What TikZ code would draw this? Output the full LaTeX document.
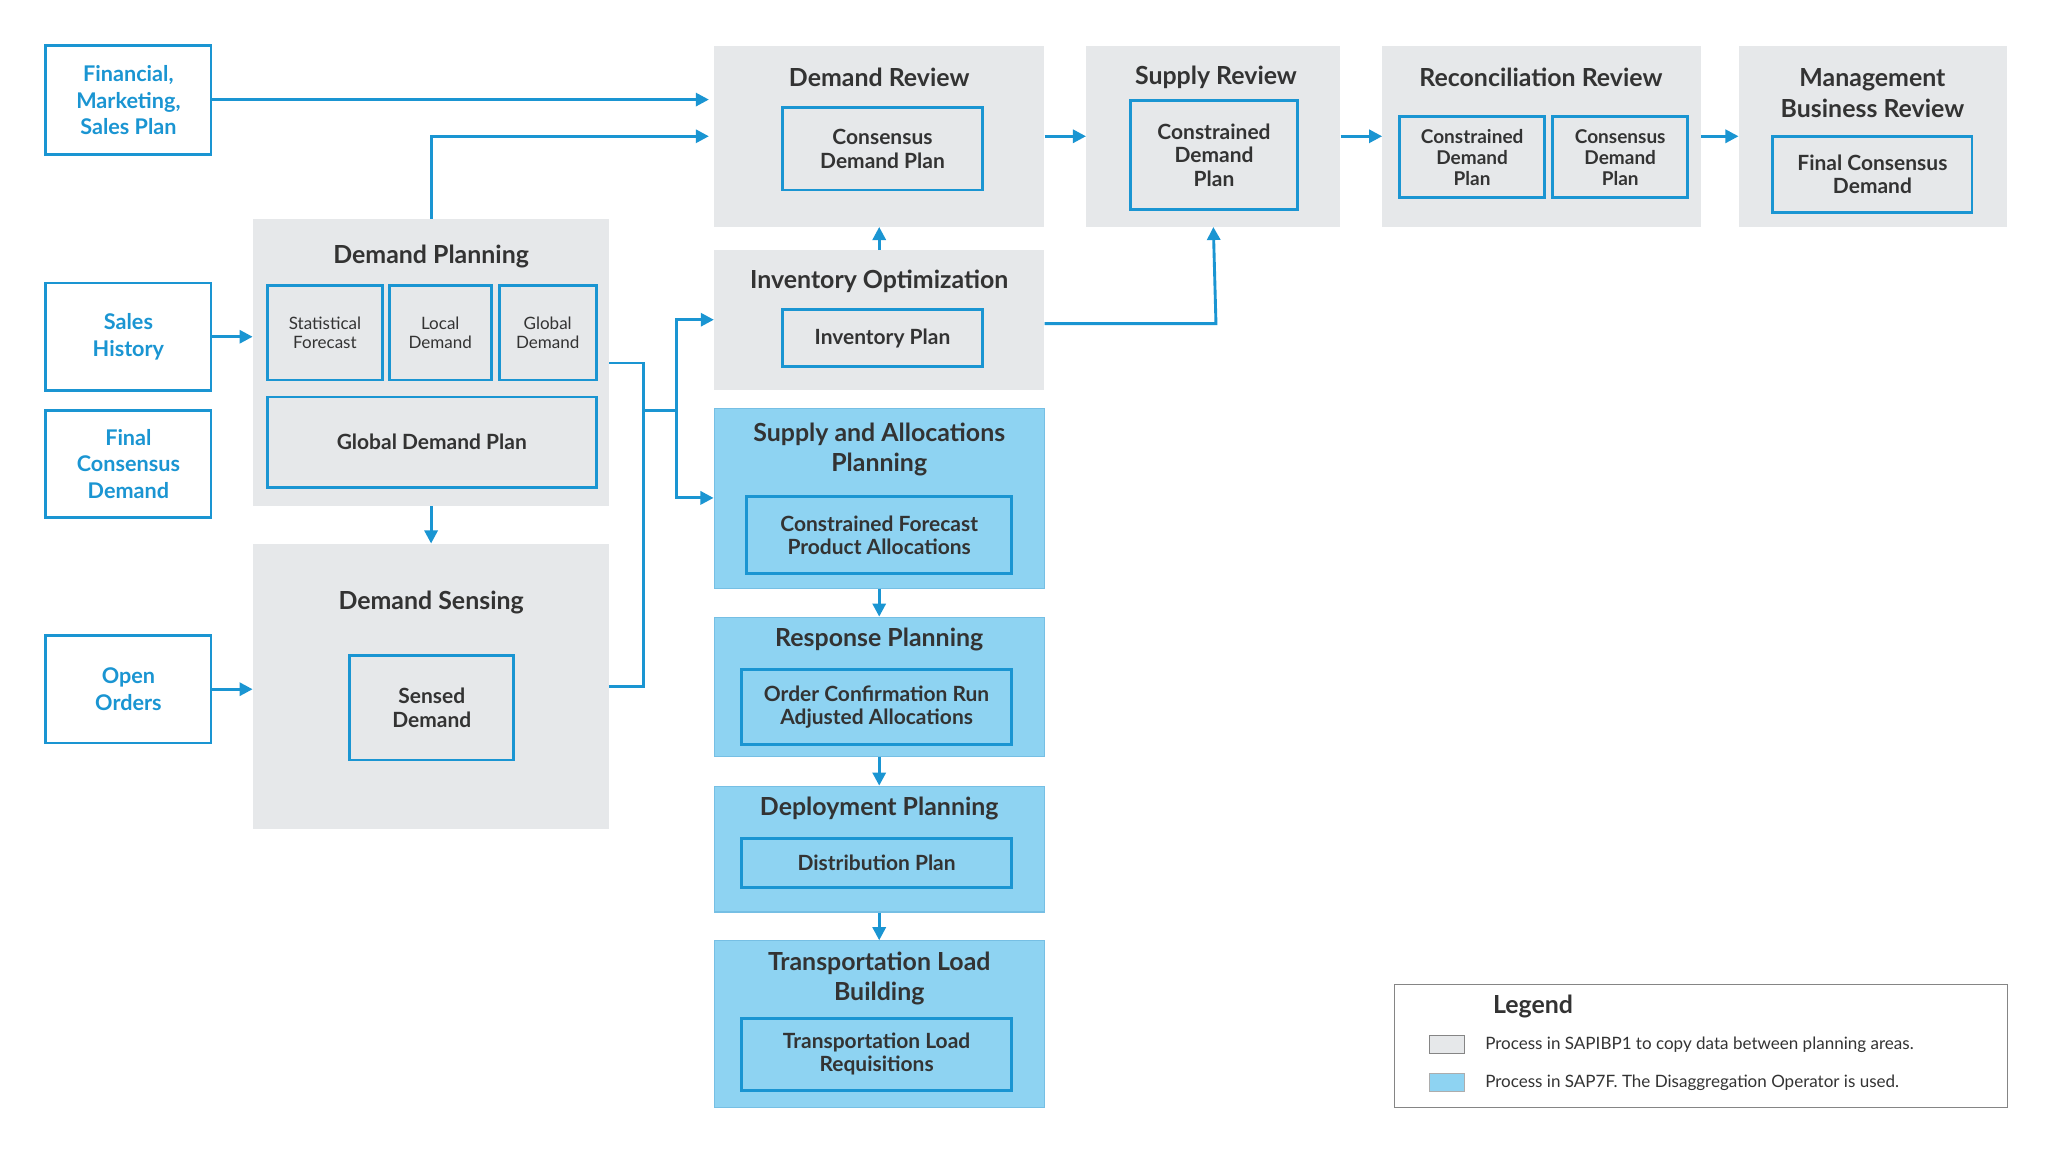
\documentclass[tikz,border=0pt]{standalone}
\usepackage{fontspec}
\setmainfont{Lato}
\usetikzlibrary{arrows.meta}
\definecolor{bl}{HTML}{1A95D2}
\definecolor{gr}{HTML}{E6E8EA}
\definecolor{lb}{HTML}{8ED3F2}
\definecolor{tx}{HTML}{333333}
\tikzset{
 gray/.style={fill=gr,draw=none},
 lblue/.style={fill=lb,draw=bl!60,line width=0.8pt},
 inner/.style={draw=bl,line width=2.2pt,text=tx,align=center,font=\fontsize{16}{18}\selectfont\bfseries},
 small/.style={draw=bl,line width=2.2pt,text=tx,align=center,font=\fontsize{13}{15}\selectfont},
 input/.style={draw=bl,line width=2.2pt,text=bl,align=center,font=\fontsize{16.5}{20}\selectfont\bfseries},
 ttl/.style={text=tx,align=center,font=\fontsize{19}{23}\selectfont\bfseries},
 ar/.style={draw=bl,line width=2.2pt,-{Triangle[length=10pt,width=10pt]}},
 ln/.style={draw=bl,line width=2.2pt}
}
\newcommand{\bx}[6]{\node[#6,inner sep=0pt,minimum width={(#4-#2)*1pt},minimum height={(#5-#3)*1pt}] (#1) at ({(#2+#4)/2},{(#3+#5)/2})}
\begin{document}
\begin{tikzpicture}[x=1pt,y=-1pt]
\useasboundingbox[fill=white] (0,0) rectangle (1563,878);
% inputs
\bx{fin}{35}{35}{161}{118}{input}{Financial,\\Marketing,\\Sales Plan};
\bx{sh}{35}{216}{161}{298}{input}{Sales\\History};
\bx{fcd}{35}{313}{161}{395}{input}{Final\\Consensus\\Demand};
\bx{oo}{35}{485}{161}{567}{input}{Open\\Orders};
% demand planning
\bx{dp}{193}{167}{465}{386}{gray}{};
\node[ttl] (dpt) at (329,196) {Demand Planning};
\bx{sf}{204}{218}{292}{290}{small}{Statistical\\Forecast};
\bx{ld}{297}{218}{375}{290}{small}{Local\\Demand};
\bx{gd}{381}{218}{455}{290}{small}{Global\\Demand};
\bx{gdp}{204}{303}{455}{372}{inner}{Global Demand Plan};
% demand sensing
\bx{ds}{193}{415}{465}{633}{gray}{};
\node[ttl] (dst) at (329,460) {Demand Sensing};
\bx{sd}{267}{500}{392}{580}{inner}{Sensed\\Demand};
% middle
\bx{dr}{545}{35}{797}{173}{gray}{};
\node[ttl] (drt) at (671,59) {Demand Review};
\bx{cdp}{597}{82}{750}{145}{inner}{Consensus\\Demand Plan};
\bx{io}{545}{191}{797}{298}{gray}{};
\node[ttl] (iot) at (671,215) {Inventory Optimization};
\bx{ip}{597}{236}{750}{280}{inner}{Inventory Plan};
\bx{sa}{545}{312}{797}{449}{lblue}{};
\node[ttl] (sat) at (671,343) {Supply and Allocations\\Planning};
\bx{cf}{570}{379}{772}{438}{inner}{Constrained Forecast\\Product Allocations};
\bx{rp}{545}{471}{797}{577}{lblue}{};
\node[ttl] (rpt) at (671,488) {Response Planning};
\bx{oc}{566}{511}{772}{568}{inner}{Order Confirmation Run\\Adjusted Allocations};
\bx{dep}{545}{600}{797}{696}{lblue}{};
\node[ttl] (dept) at (671,617) {Deployment Planning};
\bx{dip}{566}{640}{772}{677}{inner}{Distribution Plan};
\bx{tl}{545}{718}{797}{845}{lblue}{};
\node[ttl] (tlt) at (671,747) {Transportation Load\\Building};
\bx{tlr}{566}{777}{772}{832}{inner}{Transportation Load\\Requisitions};
% top right
\bx{sr}{829}{35}{1023}{173}{gray}{};
\node[ttl] (srt) at (928,59) {Supply Review};
\bx{cdp2}{863}{77}{990}{160}{inner}{Constrained\\Demand\\Plan};
\bx{rr}{1055}{35}{1298}{173}{gray}{};
\node[ttl] (rrt) at (1176,59) {Reconciliation Review};
\bx{rc1}{1068}{89}{1179}{151}{small,font=\fontsize{14.5}{16}\selectfont\bfseries}{Constrained\\Demand\\Plan};
\bx{rc2}{1185}{89}{1288}{151}{small,font=\fontsize{14.5}{16}\selectfont\bfseries}{Consensus\\Demand\\Plan};
\bx{mbr}{1327}{35}{1532}{173}{gray}{};
\node[ttl] (mbrt) at (1429,71) {Management\\Business Review};
\bx{fcd2}{1353}{104}{1505}{162}{inner}{Final Consensus\\Demand};
% legend
\bx{leg}{1064}{751}{1532}{845}{draw=tx!60,line width=0.8pt}{};
\node[text=tx,font=\fontsize{19}{22}\selectfont\bfseries] (legt) at (1170,768) {Legend};
\bx{lg1}{1091}{790}{1118}{804}{fill=gr,draw=tx!60,line width=0.8pt}{};
\bx{lg2}{1091}{819}{1118}{833}{fill=lb,draw=tx!40,line width=0.8pt}{};
\node[anchor=west,text=tx,font=\fontsize{13}{15}\selectfont] (l1) at (1130,797) {Process in SAPIBP1 to copy data between planning areas.};
\node[anchor=west,text=tx,font=\fontsize{13}{15}\selectfont] (l2) at (1130,826) {Process in SAP7F. The Disaggregation Operator is used.};
% arrows
\coordinate (a1) at (541,76);
\draw[ar] (fin.east |- a1) -- (a1);
\coordinate (a2) at (541,104);
\draw[ar] (dp.north) -- (329,104) -- (a2);
\draw[ar] (sh.east) -- (dp.west |- sh.east);
\draw[ar] (oo.east) -- (ds.west |- oo.east);
\draw[ar] (dp.south) -- (ds.north);
\draw[ln] (465,277) -- (491,277) -- (491,524) -- (465,524);
\draw[ln] (491,313) -- (516,313);
\draw[ar] (516,313) -- (516,244) -- (io.west |- 516,244);
\draw[ar] (516,313) -- (516,380) -- (sa.west |- 516,380);
\draw[ar] (dr.east |- 0,104) -- (sr.west |- 0,104);
\draw[ar] (sr.east |- 0,104) -- (rr.west |- 0,104);
\draw[ar] (rr.east |- 0,104) -- (mbr.west |- 0,104);
\draw[ar] (io.north) -- (dr.south);
\draw[ar] (io.east |- 0,247) -- (928,247) -- (sr.south);
\draw[ar] (sa.south) -- (rp.north);
\draw[ar] (rp.south) -- (dep.north);
\draw[ar] (dep.south) -- (tl.north);
\end{tikzpicture}
\end{document}
